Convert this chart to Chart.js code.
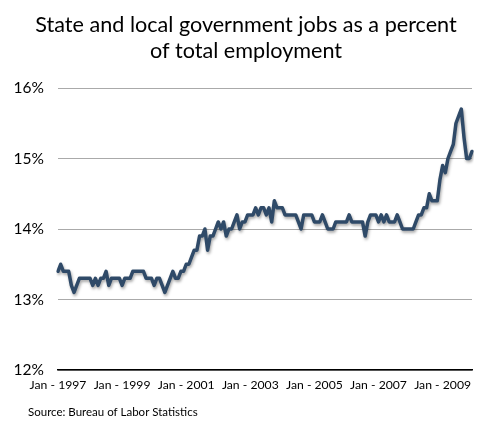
<!DOCTYPE html>
<html>
<head>
<meta charset="utf-8">
<script src="https://cdn.jsdelivr.net/npm/chart.js@4"></script>
<style>
  html, body { margin: 0; padding: 0; background: #fff; }
  #wrap { position: relative; width: 489px; height: 431px; }
</style>
</head>
<body>
<div id="wrap"><canvas id="myChart" width="489" height="431"></canvas></div>
<script>
// monthly share of state+local gov jobs, Jan 1997 .. Dec 2009
var years = [1997,1998,1999,2000,2001,2002,2003,2004,2005,2006,2007,2008,2009];
var months = ['Jan','Feb','Mar','Apr','May','Jun','Jul','Aug','Sep','Oct','Nov','Dec'];
var pct = [
  13.4,13.5,13.4,13.4,13.4,13.2,13.1,13.2,13.3,13.3,13.3,13.3,
  13.3,13.2,13.3,13.2,13.3,13.3,13.4,13.2,13.3,13.3,13.3,13.3,
  13.2,13.3,13.3,13.3,13.4,13.4,13.4,13.4,13.4,13.3,13.3,13.3,
  13.2,13.3,13.3,13.2,13.1,13.2,13.3,13.4,13.3,13.3,13.4,13.4,
  13.5,13.5,13.6,13.7,13.7,13.9,13.9,14.0,13.7,13.9,13.9,14.0,
  14.1,14.0,14.1,13.9,14.0,14.0,14.1,14.2,14.0,14.1,14.1,14.2,
  14.2,14.2,14.3,14.2,14.3,14.3,14.2,14.3,14.1,14.4,14.3,14.3,
  14.3,14.2,14.2,14.2,14.2,14.2,14.1,14.0,14.2,14.2,14.2,14.2,
  14.1,14.1,14.1,14.2,14.1,14.0,14.0,14.0,14.1,14.1,14.1,14.1,
  14.1,14.2,14.1,14.1,14.1,14.1,14.1,13.9,14.1,14.2,14.2,14.2,
  14.1,14.2,14.1,14.2,14.1,14.1,14.1,14.2,14.1,14.0,14.0,14.0,
  14.0,14.0,14.1,14.2,14.2,14.3,14.3,14.5,14.4,14.4,14.4,14.7,
  14.9,14.8,15.0,15.1,15.2,15.5,15.6,15.7,15.3,15.0,15.0,15.1
];
var yTicks = [12,13,14,15,16];
var titleLines = ['State and local government jobs as a percent', 'of total employment'];
var source = 'Source: Bureau of Labor Statistics';

var labels = [];
years.forEach(function(y) {
  months.forEach(function(m) { labels.push(m + ' - ' + y); });
});

var FONT = 'Lato, "Open Sans", sans-serif';

// drop shadow under the line + title/source text
var extras = {
  id: 'extras',
  beforeDatasetsDraw: function(c) {
    var ctx = c.ctx;
    ctx.save();
    ctx.shadowColor = 'rgba(0,0,0,0.35)';
    ctx.shadowBlur = 3;
    ctx.shadowOffsetX = 1;
    ctx.shadowOffsetY = 2;
  },
  afterDatasetsDraw: function(c) { c.ctx.restore(); },
  afterDraw: function(c) {
    var ctx = c.ctx;
    ctx.save();
    ctx.fillStyle = '#000';
    ctx.textAlign = 'center';
    ctx.textBaseline = 'alphabetic';
    ctx.font = '21.6px ' + FONT;
    ctx.fillText(titleLines[0], 246, 32);
    ctx.fillText(titleLines[1], 246, 58);
    ctx.textAlign = 'left';
    ctx.font = '11.5px ' + FONT;
    ctx.fillText(source, 28, 416);
    ctx.restore();
  }
};

var ctx = document.getElementById('myChart').getContext('2d');
var chart = new Chart(ctx, {
  type: 'line',
  data: {
    labels: labels,
    datasets: [{
      data: pct,
      borderColor: '#2f4a68',
      borderWidth: 3.5,
      borderJoinStyle: 'round',
      borderCapStyle: 'round',
      pointRadius: 0,
      tension: 0,
      fill: false
    }]
  },
  options: {
    responsive: false,
    animation: false,
    devicePixelRatio: 1,
    layout: { padding: { top: 88, left: 14, right: 17, bottom: 31 } },
    plugins: { legend: { display: false }, tooltip: { enabled: false } },
    scales: {
      x: {
        offset: false,
        grid: { display: false, drawTicks: false },
        border: { display: true, color: '#000', width: 1.5 },
        ticks: {
          autoSkip: false, maxRotation: 0, minRotation: 0,
          padding: 8, color: '#000',
          font: { family: FONT, size: 12.2 },
          callback: function(v, i) { return i % 24 === 0 ? labels[i] : ''; }
        },
        afterFit: function(s) { s.height = 30; }
      },
      y: {
        min: yTicks[0], max: yTicks[yTicks.length - 1],
        grid: { color: '#aaa', lineWidth: 1, drawTicks: false },
        border: { display: false },
        afterBuildTicks: function(s) { s.ticks = yTicks.map(function(v) { return { value: v }; }); },
        ticks: {
          padding: 14, color: '#000',
          font: { family: FONT, size: 15.5 },
          callback: function(v) { return v + '%'; }
        },
        afterFit: function(s) { s.width = 44; }
      }
    }
  },
  plugins: [extras]
});
</script>
</body>
</html>
